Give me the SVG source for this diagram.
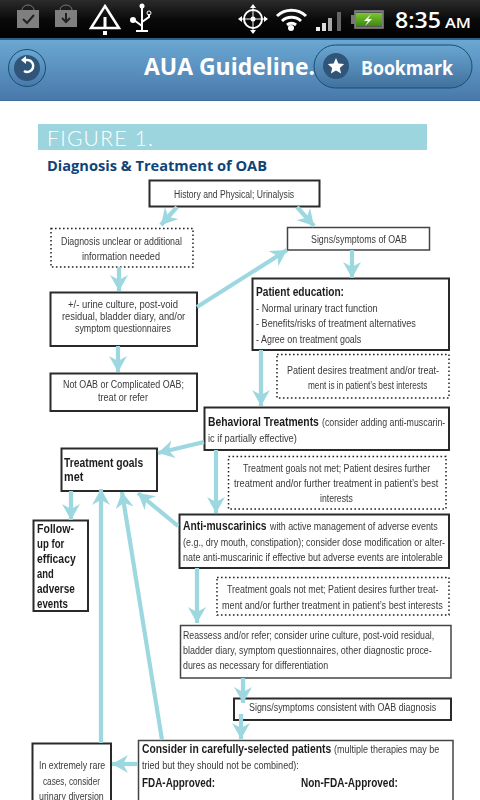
<svg xmlns="http://www.w3.org/2000/svg" width="480" height="800" viewBox="0 0 480 800">
<style>
text{font-family:"Liberation Sans",Arial,sans-serif;font-size:11.5px;fill:#3a3a3a}
.n text{filter:url(#soft)}
.b{font-weight:700;fill:#1c1c1c;font-size:12px}
.f{font-weight:700;fill:#1c1c1c;font-size:13px}
.h{font-family:"Open Sans","Liberation Sans",sans-serif;font-weight:700;fill:#fff}
.box{fill:#fff;stroke:#2a2a2a;stroke-width:2}
.thin{fill:#fff;stroke:#444;stroke-width:1.5}
.dot{fill:#fff;stroke:#222;stroke-width:1.5;stroke-dasharray:1.6 2.4}
.c{fill:none;stroke:#9dd8e0;stroke-width:4.2;marker-end:url(#ah)}
.ic{fill:none;stroke:#fff;stroke-width:2}
</style>
<defs>
<filter id="soft" x="-5%" y="-20%" width="110%" height="140%"><feGaussianBlur stdDeviation="0.3"/></filter>
<linearGradient id="sb" x1="0" y1="0" x2="0" y2="1"><stop offset="0" stop-color="#2b2b2b"/><stop offset="0.5" stop-color="#0a0a0a"/><stop offset="1" stop-color="#000"/></linearGradient>
<linearGradient id="tb" x1="0" y1="0" x2="0" y2="1"><stop offset="0" stop-color="#6ba8d3"/><stop offset="1" stop-color="#4878aa"/></linearGradient>
<linearGradient id="bm" x1="0" y1="0" x2="0" y2="1"><stop offset="0" stop-color="#6aa6d1"/><stop offset="1" stop-color="#41709f"/></linearGradient>
<linearGradient id="bt" x1="0" y1="0" x2="0" y2="1"><stop offset="0" stop-color="#7ec531"/><stop offset="1" stop-color="#3c8a10"/></linearGradient>
<marker id="ah" markerUnits="userSpaceOnUse" markerWidth="18" markerHeight="18" refX="16" refY="9" orient="auto"><path d="M0,0 L16,9 L0,18 L5,9 Z" fill="#9dd8e0"/></marker>
</defs>
<rect width="480" height="800" fill="#fff"/>
<g id="status-bar">
<rect width="480" height="39" fill="url(#sb)"/>
<rect x="17" y="10" width="22" height="18" fill="#7f7f7f"/><path d="M22,10 a6,5 0 0 1 12,0" fill="none" stroke="#777" stroke-width="1"/><path d="M23,19 l4,4 l7,-8" fill="none" stroke="#222" stroke-width="2"/>
<rect x="55" y="10" width="22" height="17" fill="#7f7f7f"/><path d="M60,10 a6,5 0 0 1 12,0" fill="none" stroke="#777" stroke-width="1"/><path d="M66,13 v8 M62,18 l4,4 l4,-4" fill="none" stroke="#222" stroke-width="2"/>
<path d="M105,6 L119,28 L91,28 Z" fill="none" stroke="#fff" stroke-width="2.500"/><rect x="103.500" y="17" width="3" height="10" fill="#fff"/><rect x="103" y="31" width="4" height="4" fill="#fff"/>
<path d="M142,6 V31 M136,31 H148 M142,26 L134,20 M142,22 L149,17 V14" class="ic"/><circle cx="142" cy="6" r="2.500" fill="#fff"/><circle cx="133" cy="20" r="3" fill="#fff"/><circle cx="149" cy="13" r="2" fill="none" stroke="#fff"/>
<circle cx="253" cy="19" r="9" class="ic"/><circle cx="253" cy="19" r="2.500" fill="#fff"/><path d="M253,8 V30 M242,19 H264" stroke="#fff" stroke-width="1"/><path d="M253,4 l-3,4 h6 Z M253,34 l-3,-4 h6 Z M238,19 l4,-3 v6 Z M268,19 l-4,-3 v6 Z" fill="#fff"/>
<path d="M277,16 a21,21 0 0 1 29,0 M282,21 a14,14 0 0 1 19,0 M287,25 a7,7 0 0 1 9,0" fill="none" stroke="#fff" stroke-width="3"/><circle cx="291" cy="28" r="3" fill="#fff"/>
<rect x="316" y="27" width="4" height="4" fill="#eee"/><rect x="322" y="23" width="4" height="8" fill="#ddd"/><rect x="328" y="18" width="4" height="13" fill="#aaa"/><rect x="337" y="12" width="4" height="19" fill="#666"/>
<rect x="355" y="11" width="28" height="17" fill="#555" stroke="#888" stroke-width="1.500"/><rect x="351" y="15" width="4" height="9" fill="#777"/><rect x="356" y="13" width="26" height="13" fill="url(#bt)"/><path d="M371,14 L364,21 H368 L365,26 L372,19 H368 Z" fill="#fff"/>
<text x="395" y="28" class="h" style="font-size:21px;font-weight:600" textLength="46" lengthAdjust="spacingAndGlyphs">8:35</text>
<text x="445" y="28" class="h" style="font-size:14px;font-weight:600" textLength="26" lengthAdjust="spacingAndGlyphs">AM</text>
</g>
<g id="title-bar">
<rect y="39" width="480" height="62" fill="url(#tb)"/><rect y="38" width="480" height="2" fill="#2f5f88"/><rect y="100" width="480" height="1" fill="#3f6d9c"/>
<text x="144" y="75" class="h" style="font-size:24px" textLength="171" lengthAdjust="spacingAndGlyphs">AUA Guideline.</text>
</g>
<g id="back-button">
<circle cx="27" cy="68" r="18.500" fill="url(#tb)" stroke="#14506f" stroke-width="1"/><circle cx="27" cy="68" r="13" fill="#2f5578"/>
<path d="M24,60 H28 a6,6 0 1 1 -4,11" fill="none" stroke="#fff" stroke-width="2.500"/><path d="M26,56 V64 L21,60 Z" fill="#fff"/>
</g>
<g id="bookmark-button">
<rect x="314" y="45" width="158" height="43" rx="21.500" fill="url(#bm)" stroke="#14506f" stroke-width="1"/>
<circle cx="336" cy="66" r="13" fill="#2f5578"/>
<path d="M336,58 l2.400,5.400 5.800,.6 -4.400,3.900 1.300,5.700 -5.100,-3 -5.100,3 1.300,-5.700 -4.400,-3.900 5.800,-.6 Z" fill="#fff"/>
<text x="361" y="75" class="h" style="font-size:20px" textLength="92" lengthAdjust="spacingAndGlyphs">Bookmark</text>
</g>
<g id="figure-heading">
<rect x="38" y="124" width="389" height="26" fill="#9dd5de"/>
<text x="47" y="146" style="fill:#fff;font-family:Lato,'Liberation Sans',sans-serif;font-weight:300;font-size:21px" textLength="106">FIGURE 1.</text>
<text x="47" y="171" style="fill:#0e4478;font-family:'Open Sans','Liberation Sans',sans-serif;font-weight:700;font-size:14.5px" textLength="220" lengthAdjust="spacingAndGlyphs">Diagnosis &amp; Treatment of OAB</text>
</g>
<g id="n-history" class="n"><rect x="149.500" y="180.500" width="170" height="26" class="box"/><text transform="matrix(.78 0 0 1 174 198)" textLength="154" lengthAdjust="spacingAndGlyphs">History and Physical; Urinalysis</text></g>
<g id="n-unclear" class="n"><rect x="51" y="228.500" width="142" height="38.500" class="dot"/><text transform="matrix(.78 0 0 1 61 245)" textLength="155" lengthAdjust="spacingAndGlyphs">Diagnosis unclear or additional</text><text transform="matrix(.78 0 0 1 82 260)" textLength="100" lengthAdjust="spacingAndGlyphs">information needed</text></g>
<g id="n-signs" class="n"><rect x="287.500" y="227.500" width="142" height="22.500" class="thin"/><text transform="matrix(.78 0 0 1 311 243)" textLength="123" lengthAdjust="spacingAndGlyphs">Signs/symptoms of OAB</text></g>
<g id="n-culture" class="n"><rect x="50.500" y="292.500" width="146.500" height="53.500" class="box"/><text transform="matrix(.78 0 0 1 68 308)" textLength="141" lengthAdjust="spacingAndGlyphs">+/- urine culture, post-void</text><text transform="matrix(.78 0 0 1 62 320)" textLength="158" lengthAdjust="spacingAndGlyphs">residual, bladder diary,  and/or</text><text transform="matrix(.78 0 0 1 75 332)" textLength="123" lengthAdjust="spacingAndGlyphs">symptom questionnaires</text></g>
<g id="n-education" class="n"><rect x="252.500" y="278.500" width="196.500" height="71.500" class="box"/><text transform="matrix(.88 0 0 1 256 296)" class="b" textLength="100" lengthAdjust="spacingAndGlyphs">Patient education:</text><text transform="matrix(.78 0 0 1 256 312)" textLength="156" lengthAdjust="spacingAndGlyphs">- Normal urinary tract function</text><text transform="matrix(.78 0 0 1 256 327)" textLength="205" lengthAdjust="spacingAndGlyphs">- Benefits/risks of treatment alternatives</text><text transform="matrix(.78 0 0 1 256 343)" textLength="135" lengthAdjust="spacingAndGlyphs">- Agree on treatment goals</text></g>
<g id="n-desires" class="n"><rect x="277" y="354.500" width="172" height="43.500" class="dot"/><text transform="matrix(.78 0 0 1 287 374)" textLength="195" lengthAdjust="spacingAndGlyphs">Patient desires treatment and/or treat-</text><text transform="matrix(.78 0 0 1 308 389)" textLength="153" lengthAdjust="spacingAndGlyphs">ment is in patient’s best interests</text></g>
<g id="n-notoab" class="n"><rect x="50.500" y="373.500" width="146.500" height="37.500" class="box"/><text transform="matrix(.78 0 0 1 63 388)" textLength="155" lengthAdjust="spacingAndGlyphs">Not OAB or Complicated OAB;</text><text transform="matrix(.78 0 0 1 98 401)" textLength="64" lengthAdjust="spacingAndGlyphs">treat or refer</text></g>
<g id="n-behavioral" class="n"><rect x="204.500" y="407.500" width="244.500" height="42.500" class="box"/><text transform="matrix(.88 0 0 1 208 426)" class="b" textLength="126" lengthAdjust="spacingAndGlyphs">Behavioral Treatments</text><text transform="matrix(.78 0 0 1 322 426)" textLength="158" lengthAdjust="spacingAndGlyphs">(consider adding anti-muscarin-</text><text transform="matrix(.78 0 0 1 208 442)" textLength="114" lengthAdjust="spacingAndGlyphs">ic if partially effective)</text></g>
<g id="n-goals" class="n"><rect x="61.500" y="448.500" width="95.500" height="42.500" class="box"/><text transform="matrix(.88 0 0 1 64 467)" class="b" textLength="90" lengthAdjust="spacingAndGlyphs">Treatment goals</text><text transform="matrix(.88 0 0 1 64 481)" class="b" textLength="22" lengthAdjust="spacingAndGlyphs">met</text></g>
<g id="n-notmet1" class="n"><rect x="228.500" y="456.500" width="217.500" height="52.500" class="dot"/><text transform="matrix(.78 0 0 1 243 472)" textLength="240" lengthAdjust="spacingAndGlyphs">Treatment goals not met; Patient desires further</text><text transform="matrix(.78 0 0 1 234 487)" textLength="262" lengthAdjust="spacingAndGlyphs">treatment and/or further treatment in patient’s best</text><text transform="matrix(.78 0 0 1 320 502)" textLength="42" lengthAdjust="spacingAndGlyphs">interests</text></g>
<g id="n-anti" class="n"><rect x="179.500" y="514.500" width="269.500" height="53.500" class="box"/><text transform="matrix(.88 0 0 1 183 530)" class="b" textLength="95" lengthAdjust="spacingAndGlyphs">Anti-muscarinics</text><text transform="matrix(.78 0 0 1 270 530)" textLength="215" lengthAdjust="spacingAndGlyphs">with active management of adverse events</text><text transform="matrix(.78 0 0 1 183 546)" textLength="336" lengthAdjust="spacingAndGlyphs">(e.g., dry mouth, constipation); consider dose modification or alter-</text><text transform="matrix(.78 0 0 1 183 561)" textLength="333" lengthAdjust="spacingAndGlyphs">nate anti-muscarinic if effective but adverse events are intolerable</text></g>
<g id="n-followup" class="n"><rect x="33.500" y="520.500" width="54.500" height="90.500" class="box"/><text transform="matrix(.88 0 0 1 37 533)" class="b" textLength="42" lengthAdjust="spacingAndGlyphs">Follow-</text><text transform="matrix(.88 0 0 1 37 548)" class="b" textLength="31" lengthAdjust="spacingAndGlyphs">up for</text><text transform="matrix(.88 0 0 1 37 563)" class="b" textLength="44" lengthAdjust="spacingAndGlyphs">efficacy</text><text transform="matrix(.88 0 0 1 37 578)" class="b" textLength="19" lengthAdjust="spacingAndGlyphs">and</text><text transform="matrix(.88 0 0 1 37 593)" class="b" textLength="43" lengthAdjust="spacingAndGlyphs">adverse</text><text transform="matrix(.88 0 0 1 37 608)" class="b" textLength="35" lengthAdjust="spacingAndGlyphs">events</text></g>
<g id="n-notmet2" class="n"><rect x="217" y="577.500" width="232" height="37.500" class="dot"/><text transform="matrix(.78 0 0 1 227 593)" textLength="271" lengthAdjust="spacingAndGlyphs">Treatment goals not met; Patient desires further treat-</text><text transform="matrix(.78 0 0 1 222 609)" textLength="283" lengthAdjust="spacingAndGlyphs">ment and/or further treatment in patient’s best interests</text></g>
<g id="n-reassess" class="n"><rect x="180.500" y="625.500" width="270.500" height="52.500" class="thin"/><text transform="matrix(.78 0 0 1 183 639)" textLength="322" lengthAdjust="spacingAndGlyphs">Reassess and/or refer; consider urine culture, post-void residual,</text><text transform="matrix(.78 0 0 1 183 654)" textLength="319" lengthAdjust="spacingAndGlyphs">bladder diary, symptom questionnaires, other diagnostic proce-</text><text transform="matrix(.78 0 0 1 183 669)" textLength="186" lengthAdjust="spacingAndGlyphs">dures as necessary for differentiation</text></g>
<g id="n-consistent" class="n"><rect x="234" y="698.500" width="217" height="21.500" class="box"/><text transform="matrix(.78 0 0 1 249 711)" textLength="240" lengthAdjust="spacingAndGlyphs">Signs/symptoms consistent with OAB diagnosis</text></g>
<g id="n-consider" class="n"><rect x="138.500" y="740.500" width="314.500" height="70" class="thin"/><text transform="matrix(.88 0 0 1 142 753)" class="b" textLength="215" lengthAdjust="spacingAndGlyphs">Consider in carefully-selected patients</text><text transform="matrix(.78 0 0 1 334 753)" textLength="135" lengthAdjust="spacingAndGlyphs">(multiple therapies may be</text><text transform="matrix(.78 0 0 1 142 769)" textLength="201" lengthAdjust="spacingAndGlyphs">tried but they should not be combined):</text><text transform="matrix(.85 0 0 1 142 787)" class="f" textLength="86" lengthAdjust="spacingAndGlyphs">FDA-Approved:</text><text transform="matrix(.85 0 0 1 301 787)" class="f" textLength="114" lengthAdjust="spacingAndGlyphs">Non-FDA-Approved:</text></g>
<g id="n-diversion" class="n"><rect x="32.500" y="743.500" width="78.500" height="70" class="box"/><text transform="matrix(.78 0 0 1 39 769)" textLength="85" lengthAdjust="spacingAndGlyphs">In extremely rare</text><text transform="matrix(.78 0 0 1 43 785)" textLength="73" lengthAdjust="spacingAndGlyphs">cases, consider</text><text transform="matrix(.78 0 0 1 39 800)" textLength="83" lengthAdjust="spacingAndGlyphs">urinary diversion</text></g>
<g id="connectors">
<path class="c" d="M177,207 L161,225"/>
<path class="c" d="M297,207 L314,226"/>
<path class="c" d="M119,267 V291"/>
<path class="c" d="M197,307 L287,250"/>
<path class="c" d="M352,250 V278"/>
<path class="c" d="M118,346 V372"/>
<path class="c" d="M261,350 V406"/>
<path class="c" d="M204,442 L158,453"/>
<path class="c" d="M216,450 V513"/>
<path class="c" d="M178,526 L138,493"/>
<path class="c" d="M71,491 V520"/>
<path class="c" d="M101,743 V489"/>
<path class="c" d="M162,740 L122,492"/>
<path class="c" d="M197,568 V623"/>
<path class="c" d="M243,678 V703"/>
<path class="c" d="M241,714 V739"/>
<path class="c" d="M138,764 H112"/>
</g>
</svg>
